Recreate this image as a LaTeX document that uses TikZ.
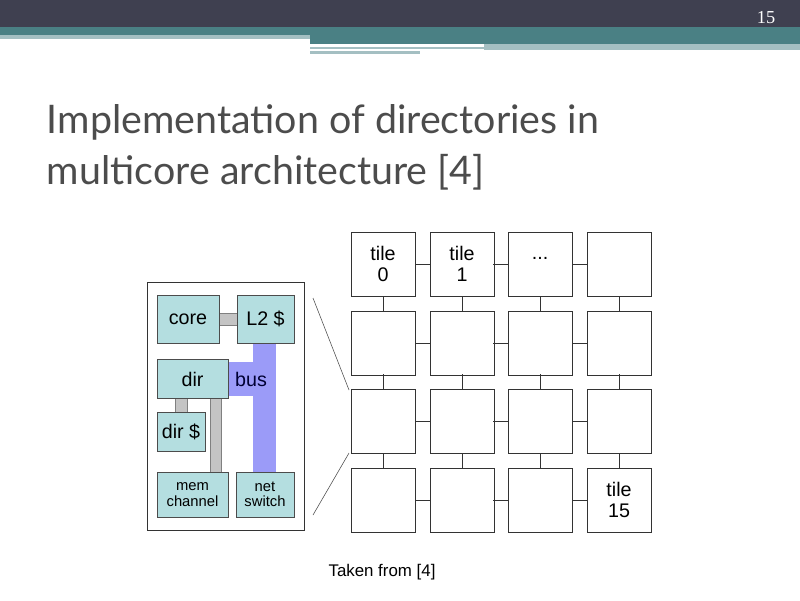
\documentclass[tikz,border=0pt]{standalone}
\usepackage{fontspec}
\usetikzlibrary{calc}
\setmainfont{Liberation Sans}
\newfontfamily\titlefont{Lato}
\newfontfamily\numfont{Liberation Serif}
\definecolor{hdr}{HTML}{3F4050}
\definecolor{teal}{HTML}{4A8084}
\definecolor{lteal}{HTML}{A4BFC2}
\definecolor{cellc}{HTML}{B4DEE0}
\definecolor{busc}{HTML}{9B9BF8}
\definecolor{grayc}{HTML}{C4C4C4}
\begin{document}
\begin{tikzpicture}[x=0.025cm,y=-0.025cm,
  tile/.style={draw=black!80,line width=0.6pt,fill=white},
  comp/.style={draw=black!70,line width=0.5pt,fill=cellc},
  lbl/.style={font=\fontsize{14}{15}\selectfont,align=center},
  sml/.style={font=\fontsize{10.5}{11}\selectfont,align=center}]
\useasboundingbox (0,0) rectangle (800,600);
% header
\fill[hdr] (0,0) rectangle (800,27);
\fill[teal] (0,27) rectangle (800,35);
\fill[lteal] (0,35) rectangle (310,39);
\fill[teal] (310,35) rectangle (800,44);
\fill[lteal] (310,47) rectangle (484,49);
\fill[lteal] (310,51) rectangle (420,54);
\fill[lteal] (484,44) rectangle (800,50);
\node[text=white,font=\numfont\fontsize{13}{13}\selectfont] (num) at (766,18) {15};
% title
\node[anchor=north west,align=left,text=black!70,font=\titlefont\fontsize{28}{36}\selectfont] (title) at (42,100) {Implementation of directories in\\multicore architecture [4]};
% grid
\foreach \c/\x in {0/351,1/430,2/508,3/587}{
  \foreach \r/\y in {0/232,1/311,2/389,3/468}{
    \draw[tile] (\x,\y) rectangle ++(64,64);
    \coordinate (t\c\r) at (\x+32,\y+32);
  }}
\foreach \c/\x in {0/415,1/493,2/572}{
  \foreach \y in {264,343,421,500}{\draw[black!80] (\x,\y) -- ++(15,0);}}
\foreach \y in {296,374,453}{
  \foreach \x in {383,462,540,619}{\draw[black!80] (\x,\y) -- ++(0,15);}}
\node[lbl] (l0) at (t00) {tile\\0};
\node[lbl] (l1) at (t10) {tile\\1};
\node[lbl] (l2) at ($(t20)+(0,-6)$) {...};
\node[lbl] (l15) at (t33) {tile\\15};
% left panel
\draw[black!80,line width=0.6pt] (147,282) rectangle (304,530);
\fill[busc] (253,343) rectangle (276,472);
\fill[busc] (228,362) rectangle (253,396);
\fill[grayc,draw=black!50] (219,313) rectangle (237,325);
\fill[grayc,draw=black!50] (175,398) rectangle (187,412);
\fill[grayc,draw=black!50] (210,398) rectangle (221,472);
\draw[comp] (157,295) rectangle (219,343); \node[lbl] (core) at (188,319) {core};
\draw[comp] (237,295) rectangle (294,343); \node[lbl] (l2c) at (265.5,319) {L2 \$};
\draw[comp] (157,359) rectangle (228,398); \node[lbl] (dir) at (192.5,379) {dir};
\draw[comp] (157,412) rectangle (205,451); \node[lbl] (dirc) at (181,432) {dir \$};
\draw[comp] (157,472) rectangle (228,517); \node[sml] (mem) at (192.5,494.5) {mem\\channel};
\draw[comp] (236,472) rectangle (294,517); \node[sml] (net) at (265,494.5) {net\\switch};
\node[lbl,text=blue!20!black] (bus) at (251,379) {bus};
\draw[black!70] (313,298) -- (349,390);
\draw[black!70] (313,515) -- (349,453);
\node[font=\fontsize{12}{12}\selectfont] (cap) at (382,572) {Taken from [4]};
\end{tikzpicture}
\end{document}
